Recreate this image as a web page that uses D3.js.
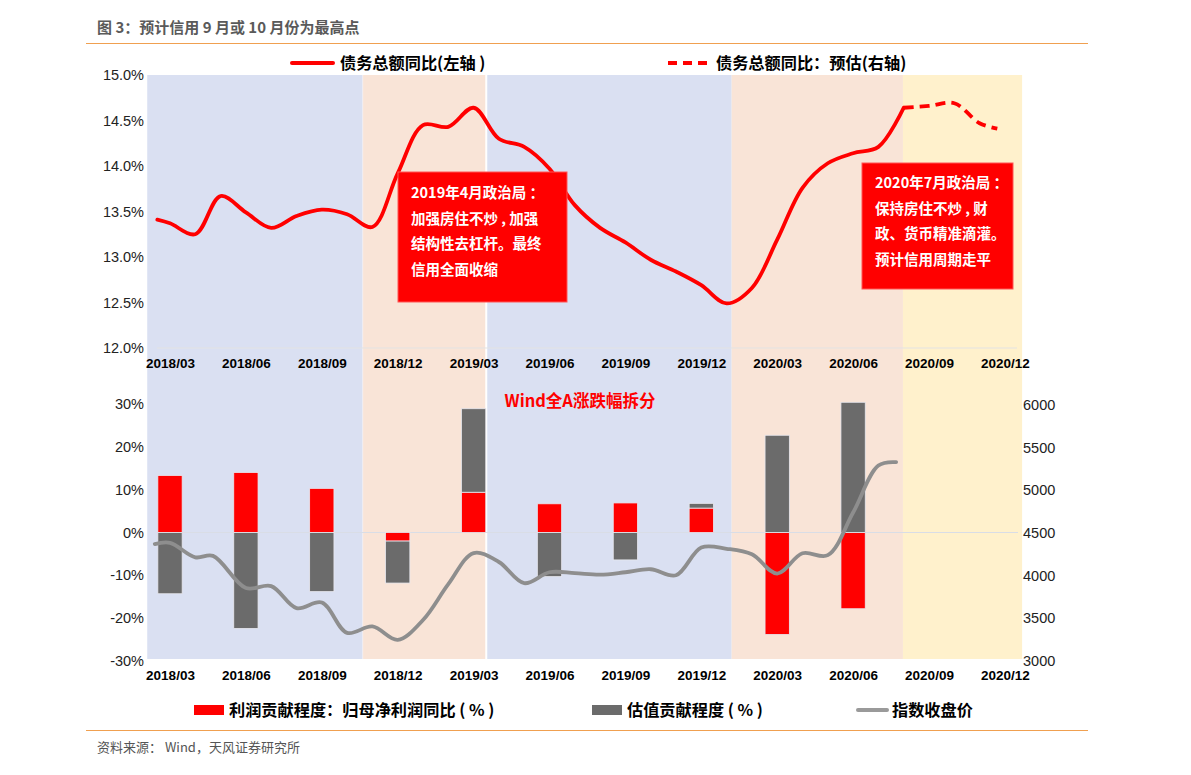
<!DOCTYPE html>
<html><head><meta charset="utf-8">
<script src="https://cdn.jsdelivr.net/npm/d3@7/dist/d3.min.js"></script>
<style>
body{margin:0;background:#fff;}
svg{display:block;font-family:"Liberation Sans","Noto Sans CJK SC",sans-serif;}
.cjk{font-family:"Noto Sans CJK SC","Liberation Sans",sans-serif;}
</style></head>
<body><svg id="c" width="1191" height="775"></svg>
<script>
// ---------- DATA ----------
const titleText = "图 3：预计信用 9 月或 10 月份为最高点";
const sourceText = "资料来源： Wind，天风证券研究所";
// month index: 0 = 2018/03
const tickMonths = [0,3,6,9,12,15,18,21,24,27,30,33];
const tickLabels = ["2018/03","2018/06","2018/09","2018/12","2019/03","2019/06","2019/09","2019/12","2020/03","2020/06","2020/09","2020/12"];
const bandStart = [-0.9, 7.62, 12.5, 22.2, 28.97];
const bandEnd   = [7.62, 12.5, 22.2, 28.97, 33.68];
const bandKind  = ["blue","peach","blue","peach","yellow"];

const debtMonths = [-0.5,0,1,2,3,4,5,6,7,8,9,10,11,12,13,14,15,16,17,18,19,20,21,22,23,24,25,26,27,28,29];
const debtYoY    = [13.41,13.37,13.25,13.67,13.49,13.32,13.45,13.52,13.47,13.33,13.92,14.45,14.43,14.64,14.30,14.21,13.97,13.57,13.32,13.16,12.97,12.84,12.69,12.49,12.66,13.19,13.76,14.03,14.14,14.21,14.64];
const estMonths  = [29,30,31,32,32.7];
const estYoY     = [14.64,14.66,14.69,14.47,14.41];
const leftTicksTop = [12.0,12.5,13.0,13.5,14.0,14.5,15.0];

const barMonths   = [0,3,6,9,12,15,18,21,24,27];
const profitContr = [13.3,14.0,10.3,-2.0,9.4,6.7,6.9,5.7,-23.8,-17.8];
const valueContr  = [-14.3,-22.4,-13.8,-9.8,19.5,-10.3,-6.4,1.1,22.7,30.4];
const leftTicksBot = [-30,-20,-10,0,10,20,30];
const rightTicksBot = [3000,3500,4000,4500,5000,5500,6000];
const idxMonths = [-0.6,0,1,1.7,3,4,5,6,7,8,9,10,11,12,13,14,15,16,17,18,19,20,21,22,23,24,25,26,27,28,28.7];
const idxClose  = [4370,4385,4215,4232,3855,3878,3620,3685,3330,3405,3248,3480,3900,4265,4160,3912,4040,4030,4012,4040,4075,4005,4330,4315,4250,4025,4262,4240,4740,5290,5330];

const legendTop = ["债务总额同比(左轴 )","债务总额同比：预估(右轴)"];
const legendBot = ["利润贡献程度：归母净利润同比 ( % )","估值贡献程度 ( % )","指数收盘价"];
const chartTitleBot = "Wind全A涨跌幅拆分";
const note1 = ["2019年4月政治局 ：","加强房住不炒 , 加强","结构性去杠杆。最终","信用全面收缩"];
const note2 = ["2020年7月政治局 ：","保持房住不炒 , 财","政、货币精准滴灌。","预计信用周期走平"];

// ---------- SETUP ----------
const svg = d3.select("#c");
const bandColor = {blue:"#dae0f2", peach:"#f9e4d7", yellow:"#fff1cc"};
const x = d3.scaleLinear().domain([0,33]).range([170,1004.9]);
const yTop = d3.scaleLinear().domain([12,15]).range([348,75]);
const yBot = d3.scaleLinear().domain([-30,30]).range([661,404]);
const yIdx = d3.scaleLinear().domain([3000,6000]).range([661,405]);

// title
svg.append("text").attr("class","cjk").attr("x",97).attr("y",33).attr("font-size",15).attr("font-weight","bold").attr("fill","#5a5a5a").text(titleText);
svg.append("line").attr("x1",86).attr("x2",1088).attr("y1",43.5).attr("y2",43.5).attr("stroke","#f0a050").attr("stroke-width",1.2);

// bands
svg.append("g").selectAll("rect").data(bandStart).join("rect")
  .attr("x",(d)=>x(d)).attr("width",(d,i)=>x(bandEnd[i])-x(d))
  .attr("y",75).attr("height",659-75).attr("fill",(d,i)=>bandColor[bandKind[i]]);
svg.append("line").attr("x1",x(bandStart[2])).attr("x2",x(bandStart[2])).attr("y1",75).attr("y2",659).attr("stroke","#fff").attr("stroke-width",2);
svg.append("line").attr("x1",x(bandStart[1])).attr("x2",x(bandStart[1])).attr("y1",75).attr("y2",659).attr("stroke","#fff").attr("stroke-width",0.6).attr("opacity",0.7);

// ---------- TOP CHART ----------
svg.append("line").attr("x1",157).attr("x2",1017).attr("y1",yTop(12)).attr("y2",yTop(12)).attr("stroke","#e3e3e3").attr("stroke-width",1);
const gL = svg.append("g").attr("transform","translate(146,0)")
  .call(d3.axisLeft(yTop).tickValues(leftTicksTop).tickFormat(d=>d.toFixed(1)+"%").tickSize(0).tickPadding(2));
gL.select(".domain").remove();
gL.selectAll("text").attr("font-size",14.5).attr("fill","#222");

const gXT = svg.append("g").attr("transform","translate(0,358)")
  .call(d3.axisBottom(x).tickValues(tickMonths).tickFormat((d,i)=>tickLabels[i]).tickSize(0).tickPadding(0));
gXT.select(".domain").remove();
gXT.selectAll("text").attr("font-size",13.5).attr("font-weight","bold").attr("fill","#000");

const lineTop = d3.line().x(d=>x(d[0])).y(d=>yTop(d[1])).curve(d3.curveCatmullRom.alpha(0.5));
svg.append("path").datum(debtMonths.map((m,i)=>[m,debtYoY[i]])).attr("d",lineTop)
  .attr("fill","none").attr("stroke","#ff0000").attr("stroke-width",3.8).attr("stroke-linecap","round");
svg.append("path").datum(estMonths.map((m,i)=>[m,estYoY[i]])).attr("d",lineTop)
  .attr("fill","none").attr("stroke","#ff0000").attr("stroke-width",3.8).attr("stroke-dasharray","10,6");

// top legend
svg.append("line").attr("x1",292).attr("x2",333).attr("y1",63).attr("y2",63).attr("stroke","#ff0000").attr("stroke-width",4).attr("stroke-linecap","round");
svg.append("text").attr("class","cjk").attr("x",340).attr("y",69).attr("font-size",16.2).attr("font-weight","bold").attr("fill","#000").text(legendTop[0]);
svg.append("line").attr("x1",668).attr("x2",710).attr("y1",63).attr("y2",63).attr("stroke","#ff0000").attr("stroke-width",4).attr("stroke-dasharray","9,6");
svg.append("text").attr("class","cjk").attr("x",716).attr("y",69).attr("font-size",16.2).attr("font-weight","bold").attr("fill","#000").text(legendTop[1]);

// annotations
function note(x0,y0,w,h,lines,tx,ty){
  svg.append("rect").attr("x",x0).attr("y",y0).attr("width",w).attr("height",h).attr("fill","#ff0000").attr("stroke","#ff5555").attr("stroke-width",1);
  const t = svg.append("text").attr("class","cjk").attr("font-size",14.5).attr("font-weight","bold").attr("fill","#fff");
  lines.forEach((s,i)=>t.append("tspan").attr("x",tx).attr("y",ty+i*25.5).text(s));
}
note(398,172,169,130,note1,411,198);
note(862,163,151,126,note2,875,188);

// ---------- BOTTOM CHART ----------
svg.append("line").attr("x1",157).attr("x2",1018).attr("y1",yBot(0)).attr("y2",yBot(0)).attr("stroke","#d9dde6").attr("stroke-width",1);
const gBL = svg.append("g").attr("transform","translate(146,0)")
  .call(d3.axisLeft(yBot).tickValues(leftTicksBot).tickFormat(d=>d+"%").tickSize(0).tickPadding(2));
gBL.select(".domain").remove();
gBL.selectAll("text").attr("font-size",14.5).attr("fill","#222");
const gBR = svg.append("g").attr("transform","translate(1022,0)")
  .call(d3.axisRight(yIdx).tickValues(rightTicksBot).tickFormat(d3.format("d")).tickSize(0).tickPadding(1));
gBR.select(".domain").remove();
gBR.selectAll("text").attr("font-size",14.5).attr("fill","#222");
const gXB = svg.append("g").attr("transform","translate(0,670)")
  .call(d3.axisBottom(x).tickValues(tickMonths).tickFormat((d,i)=>tickLabels[i]).tickSize(0).tickPadding(0));
gXB.select(".domain").remove();
gXB.selectAll("text").attr("font-size",13.5).attr("font-weight","bold").attr("fill","#000");

// stacked bars
const bw = x(1)-x(0)-1;
const bars = [];
barMonths.forEach((m,i)=>{
  let pos=0, neg=0;
  [[profitContr[i],"#ff0000"],[valueContr[i],"#6b6b6b"]].forEach(([v,c])=>{
    let a,b;
    if(v>=0){a=pos;b=pos+v;pos=b;} else {a=neg;b=neg+v;neg=b;}
    bars.push({m,a,b,c});
  });
});
svg.append("g").selectAll("rect").data(bars).join("rect")
  .attr("x",d=>x(d.m)-bw/2).attr("width",bw)
  .attr("y",d=>yBot(Math.max(d.a,d.b))).attr("height",d=>Math.abs(yBot(d.a)-yBot(d.b)))
  .attr("fill",d=>d.c).attr("stroke","#e8e8ef").attr("stroke-width",0.8);

const lineIdx = d3.line().x(d=>x(d[0])).y(d=>yIdx(d[1])).curve(d3.curveCatmullRom.alpha(0.5));
svg.append("path").datum(idxMonths.map((m,i)=>[m,idxClose[i]])).attr("d",lineIdx)
  .attr("fill","none").attr("stroke","#8e8e8e").attr("stroke-width",3.8).attr("stroke-linecap","round");

svg.append("text").attr("class","cjk").attr("x",580).attr("y",407).attr("text-anchor","middle").attr("font-size",16.5).attr("font-weight","bold").attr("fill","#ff0000").text(chartTitleBot);

// bottom legend
svg.append("rect").attr("x",194).attr("y",705).attr("width",30).attr("height",10).attr("fill","#ff0000");
svg.append("text").attr("class","cjk").attr("x",229).attr("y",716).attr("font-size",16.2).attr("font-weight","bold").attr("fill","#000").text(legendBot[0]);
svg.append("rect").attr("x",592).attr("y",705).attr("width",30).attr("height",10).attr("fill","#6b6b6b");
svg.append("text").attr("class","cjk").attr("x",627).attr("y",716).attr("font-size",16.2).attr("font-weight","bold").attr("fill","#000").text(legendBot[1]);
svg.append("line").attr("x1",858).attr("x2",887).attr("y1",710).attr("y2",710).attr("stroke","#9a9a9a").attr("stroke-width",4).attr("stroke-linecap","round");
svg.append("text").attr("class","cjk").attr("x",892).attr("y",716).attr("font-size",16.2).attr("font-weight","bold").attr("fill","#000").text(legendBot[2]);

svg.append("line").attr("x1",86).attr("x2",1088).attr("y1",730.5).attr("y2",730.5).attr("stroke","#f0a050").attr("stroke-width",1.2);
svg.append("text").attr("class","cjk").attr("x",97).attr("y",752).attr("font-size",13).attr("fill","#555").text(sourceText);
</script></body></html>
